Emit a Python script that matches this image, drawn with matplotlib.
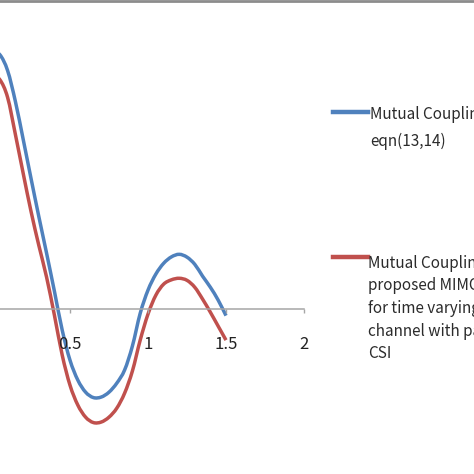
import matplotlib
matplotlib.use('Agg')
import numpy as np
import matplotlib.pyplot as plt
from matplotlib.lines import Line2D
from matplotlib.path import Path
from matplotlib.patches import PathPatch

# antenna spacing (d / lambda)
spacing = [0.00, 0.05, 0.10, 0.15, 0.20, 0.25, 0.30, 0.35, 0.40, 0.45,
           0.50, 0.55, 0.60, 0.65, 0.70, 0.75, 0.80, 0.85, 0.90, 0.95,
           1.00, 1.05, 1.10, 1.15, 1.20, 1.25, 1.30, 1.35, 1.40, 1.45, 1.50]

# mutual coupling from eqn(13,14)
coupling_eqn = [1.000, 0.988, 0.926, 0.806, 0.659, 0.508, 0.360, 0.217, 0.070, -0.081,
                -0.198, -0.275, -0.322, -0.343, -0.341, -0.322, -0.287, -0.236, -0.143, -0.016,
                0.074, 0.136, 0.178, 0.203, 0.213, 0.202, 0.174, 0.128, 0.085, 0.035, -0.025]

# mutual coupling for proposed MIMO system (partial CSI)
coupling_prop = [0.907, 0.891, 0.822, 0.678, 0.527, 0.380, 0.248, 0.124, -0.023, -0.178,
                 -0.295, -0.372, -0.419, -0.440, -0.438, -0.419, -0.384, -0.326, -0.240, -0.120,
                 -0.019, 0.054, 0.097, 0.114, 0.120, 0.112, 0.085, 0.039, -0.012, -0.066, -0.120]

xticks = [0.5, 1, 1.5, 2]
xtick_labels = ['0.5', '1', '1.5', '2']

label_eqn = ['Mutual Coupling using', 'eqn(13,14)']
label_prop = ['Mutual Coupling for', 'proposed MIMO system', 'for time varying',
              'channel with partial', 'CSI']

blue = '#4F81BD'
red = '#C0504D'
font = ['Noto Sans CJK JP', 'DejaVu Sans']


def smooth_path(x, y):
    # excel style smoothed line: catmull-rom segments as cubic beziers
    p = np.column_stack([x, y])
    ext = np.vstack([p[0], p, p[-1]])
    verts = [p[0]]
    codes = [Path.MOVETO]
    for i in range(len(p) - 1):
        p0, p1, p2, p3 = ext[i], ext[i + 1], ext[i + 2], ext[i + 3]
        verts += [p1 + (p2 - p0) / 6, p2 - (p3 - p1) / 6, p2]
        codes += [Path.CURVE4] * 3
    return Path(verts, codes)


W = 474
fig = plt.figure(figsize=(4.74, 4.74), dpi=100)
ax = fig.add_axes([-8 / W, 10.2 / W, 312 / W, 463.8 / W])
ax.set_xlim(0, 2)
ax.set_ylim(-0.6, 1.2)

for vals, col in [(coupling_eqn, blue), (coupling_prop, red)]:
    ax.add_patch(PathPatch(smooth_path(spacing, vals), facecolor='none',
                           edgecolor=col, lw=2.5, capstyle='butt'))

for s in ['left', 'right', 'top']:
    ax.spines[s].set_visible(False)
ax.spines['bottom'].set_position(('data', 0))
ax.spines['bottom'].set_color('#a6a6a6')
ax.spines['bottom'].set_linewidth(1.1)
ax.set_yticks([])
ax.set_xticks(xticks)
ax.set_xticklabels(xtick_labels, family=font, fontsize=12, color='#222222')
ax.tick_params(axis='x', direction='out', length=3, width=1, color='#a6a6a6', pad=16)
ax.patch.set_visible(False)


# legend drawn in figure pixels
def fy(px):
    return 1 - px / W


fig.add_artist(Line2D([333 / W, 368 / W], [fy(112), fy(112)], color=blue, lw=3.2))
for i, t in enumerate(label_eqn):
    fig.text(370 / W, fy(119 + 27 * i), t, family=font, fontsize=11,
             color='#2b2b2b', va='baseline')

fig.add_artist(Line2D([333 / W, 368 / W], [fy(257), fy(257)], color=red, lw=3.2))
for i, t in enumerate(label_prop):
    fig.text(368 / W, fy(268 + 22.5 * i), t, family=font, fontsize=11,
             color='#2b2b2b', va='baseline')

# grey border along the top edge
fig.add_artist(Line2D([0, 1], [fy(1.2), fy(1.2)], color='#8c8c8c', lw=2))

fig.savefig('out.png', dpi=100)
